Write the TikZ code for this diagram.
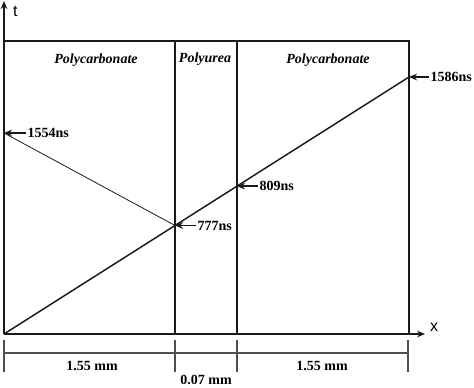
\documentclass[tikz,border=0pt]{standalone}
\usepackage{fontspec}
\setmainfont{Liberation Serif}
\newfontfamily\axisfont{Liberation Sans}
\usetikzlibrary{arrows.meta,positioning,calc}
\definecolor{ink}{HTML}{1A1A1A}
\definecolor{tick}{HTML}{505050}
\tikzset{
  frame/.style={draw=ink, line width=1.1pt},
  ar/.style={-{Stealth[length=6pt,width=5pt]}, line width=1.1pt, draw=ink},
  lbl/.style={font=\bfseries\fontsize{10.5}{12}\selectfont, anchor=west, inner sep=1pt},
  layer/.style={font=\bfseries\itshape\fontsize{10.5}{12}\selectfont},
  dim/.style={font=\bfseries\fontsize{10.5}{12}\selectfont, inner sep=0.5pt}
}

\begin{document}
\begin{tikzpicture}[x=0.75pt,y=0.75pt]
  \useasboundingbox (0,0) rectangle (474,387);

  % axes
  \coordinate (O) at (4,53);
  \draw[ar] (O) -- (4,386) node[anchor=west, font=\axisfont\large, xshift=3pt, yshift=-8pt] (tlab) {t};
  \draw[ar] (O) -- (425,53) node[anchor=west, font=\axisfont\large, yshift=5pt] (xlab) {x};

  % layers
  \coordinate (TL) at (4,346);
  \coordinate (TR) at (409,346);
  \coordinate (BR) at (409,53);
  \draw[frame] (TL) -- (TR) -- (BR);
  \draw[frame] (175,53) coordinate (a1) -- (175,346) coordinate (a2);
  \draw[frame] (237,53) coordinate (b1) -- (237,346) coordinate (b2);
  \node[layer] (pc1) at (96,327) {Polycarbonate};
  \node[layer] (pu) at (205,328) {Polyurea};
  \node[layer] (pc2) at (328,327) {Polycarbonate};

  % wave paths
  \coordinate (E) at (409,310);
  \coordinate (S) at (4,254);
  \coordinate (P) at (intersection of O--E and a1--a2);
  \coordinate (Q) at (intersection of O--E and b1--b2);
  \draw[ink, line width=1.1pt] (O) -- (E);
  \draw[ink, line width=0.6pt] (S) -- (P);

  % time marks
  \node[lbl] (t1554) at ($(S)+(22,0)$) {1554ns};
  \node[lbl] (t777) at ($(P)+(21,0)$) {777ns};
  \node[lbl] (t809) at ($(Q)+(21,0)$) {809ns};
  \node[lbl] (t1586) at ($(E)+(20,0)$) {1586ns};
  \draw[ar] (t1554.west) -- (S);
  \draw[ar] (t777.west) -- (P);
  \draw[ar] (t809.west) -- (Q);
  \draw[ar] (t1586.west) -- (E);

  % thickness dimensions
  \foreach \x/\n in {4/d0, 175/d1, 237/d2, 408/d3} {
    \draw[tick, line width=0.8pt] (\x,47) coordinate (\n t) -- (\x,15) coordinate (\n b);
  }
  \draw[tick, line width=0.8pt] (4,34) -- (408,34);
  \node[dim] (w1) at (92,21) {1.55 mm};
  \node[dim] (w2) at (206,7) {0.07 mm};
  \node[dim] (w3) at (322,21) {1.55 mm};
\end{tikzpicture}
\end{document}
